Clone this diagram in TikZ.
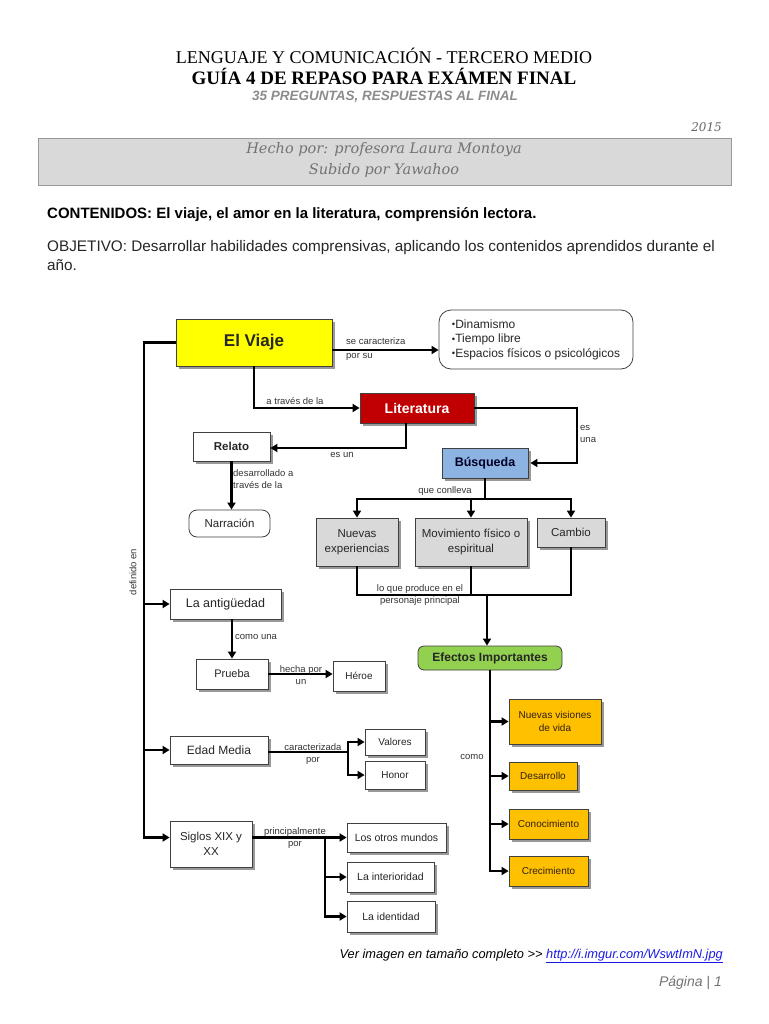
\documentclass[tikz,border=0pt]{standalone}
\usepackage{fontspec}
\setmainfont{Liberation Serif}
\setsansfont{Liberation Sans}
\newfontfamily\slabfont{DejaVu Serif}
\usetikzlibrary{shadows,arrows.meta}
\definecolor{vyellow}{HTML}{FFFF00}
\definecolor{vred}{HTML}{C00000}
\definecolor{vblue}{HTML}{8DB3E2}
\definecolor{vgray}{HTML}{D9D9D9}
\definecolor{vgreen}{HTML}{92D050}
\definecolor{vorange}{HTML}{FFC000}
\definecolor{vlink}{HTML}{1A1AE6}
\newcommand\smallbul{{\fontsize{9.5}{9.5}\selectfont\raisebox{0.05ex}{•}}}
\begin{document}
\begin{tikzpicture}[x=1pt,y=-1pt,
  box/.style={draw=black!75, line width=0.8pt, fill=white,
    drop shadow={shadow xshift=3pt, shadow yshift=-3pt, fill=black!40, opacity=1},
    font=\sffamily\fontsize{11}{13}\selectfont, align=center, inner sep=1pt, text=black!85},
  lab/.style={font=\sffamily\fontsize{9.5}{12}\selectfont, text=black!80, inner sep=0pt, align=center},
  arr/.style={line width=2.6pt, -{Triangle[length=7pt,width=8pt]}},
  ln/.style={line width=2.6pt}
]
\useasboundingbox[fill=white] (0,0) rectangle (768,1024);

% ---------- header ----------
\node[font=\fontsize{18}{20}\selectfont] (t1) at (384,55.5) {LENGUAJE Y COMUNICACIÓN - TERCERO MEDIO};
\node[font=\bfseries\fontsize{19}{21}\selectfont] (t2) at (384,76) {GUÍA 4 DE REPASO PARA EXÁMEN FINAL};
\node[font=\sffamily\bfseries\itshape\fontsize{13.5}{15}\selectfont, text=black!45] (t3) at (385,97) {35 PREGUNTAS, RESPUESTAS AL FINAL};
\node[anchor=east, font=\slabfont\itshape\fontsize{12}{14}\selectfont, text=black!60, inner sep=0pt] (yr) at (722,127) {2015};
\node[draw=black!40, fill=vgray, minimum width=693, minimum height=47, line width=1pt, inner sep=0pt] (hb) at (384.5,162.5) {};
\node[font=\slabfont\itshape\fontsize{14.5}{16}\selectfont, text=black!55] (h1) at (384,150) {Hecho por: profesora Laura Montoya};
\node[font=\slabfont\itshape\fontsize{14.5}{16}\selectfont, text=black!55] (h2) at (384,171) {Subido por Yawahoo};
\node[anchor=west, font=\sffamily\bfseries\fontsize{15}{17}\selectfont, inner sep=0pt] (cont) at (47,215) {CONTENIDOS: El viaje, el amor en la literatura, comprensión lectora.};
\node[anchor=west, font=\sffamily\fontsize{15.3}{17}\selectfont, inner sep=0pt, text=black!85] (obj1) at (47,248) {OBJETIVO: Desarrollar habilidades comprensivas, aplicando los contenidos aprendidos durante el};
\node[anchor=west, font=\sffamily\fontsize{15.3}{17}\selectfont, inner sep=0pt, text=black!85] (obj2) at (47,265) {año.};

% ---------- diagram nodes ----------
\node[box, fill=vyellow, minimum width=156, minimum height=47, font=\sffamily\bfseries\fontsize{17}{19}\selectfont] (viaje) at (254,342.5) {El Viaje};
\node[draw=black!75, line width=0.8pt, rounded corners=12pt, minimum width=194, minimum height=59, align=left, font=\sffamily\fontsize{12}{14.5}\selectfont, text=black!85] (bubble) at (536,339.5) {\smallbul Dinamismo\\\smallbul Tiempo libre\\\smallbul Espacios físicos o psicológicos};
\node[box, fill=vred, text=white, minimum width=114, minimum height=30, font=\sffamily\bfseries\fontsize{14}{16}\selectfont] (lit) at (417,408) {Literatura};
\node[box, fill=vblue, minimum width=86, minimum height=30, font=\sffamily\bfseries\fontsize{12.5}{14}\selectfont, text=black!85!blue] (busq) at (485,463) {Búsqueda};
\node[box, minimum width=77, minimum height=29, font=\sffamily\bfseries\fontsize{11.5}{13}\selectfont] (relato) at (231.5,446.5) {Relato};
\node[draw=black!75, line width=0.8pt, rounded corners=8pt, fill=white, minimum width=81, minimum height=27, font=\sffamily\fontsize{11.5}{13}\selectfont, text=black!85] (narr) at (229.5,523.5) {Narración};
\node[box, fill=vgray, minimum width=82, minimum height=48, font=\sffamily\fontsize{11.5}{15}\selectfont] (nuevas) at (357,542) {Nuevas\\experiencias};
\node[box, fill=vgray, minimum width=112, minimum height=48, font=\sffamily\fontsize{11.5}{15}\selectfont] (mov) at (471,542) {Movimiento físico o\\espiritual};
\node[box, fill=vgray, minimum width=68, minimum height=29, font=\sffamily\fontsize{11.5}{14}\selectfont] (cambio) at (571,532.5) {Cambio};
\node[draw=black!75, line width=0.8pt, rounded corners=6pt, fill=vgreen, minimum width=144, minimum height=24, font=\sffamily\bfseries\fontsize{12}{14}\selectfont, text=black!85] (efectos) at (490,658) {Efectos Importantes};
\node[box, fill=vorange, minimum width=92, minimum height=45, font=\sffamily\fontsize{10}{13}\selectfont, text=black!75!brown] (nvv) at (555,721.5) {Nuevas visiones\\de vida};
\node[box, fill=vorange, minimum width=68, minimum height=28, font=\sffamily\fontsize{10}{13}\selectfont, text=black!75!brown] (desa) at (543,776) {Desarrollo};
\node[box, fill=vorange, minimum width=79, minimum height=30, font=\sffamily\fontsize{10}{13}\selectfont, text=black!75!brown] (cono) at (548.5,824) {Conocimiento};
\node[box, fill=vorange, minimum width=79, minimum height=30, font=\sffamily\fontsize{10}{13}\selectfont, text=black!75!brown] (crec) at (548.5,871) {Crecimiento};
\node[box, minimum width=111, minimum height=30, font=\sffamily\fontsize{12.5}{14}\selectfont] (antig) at (225.5,604) {La antigüedad};
\node[box, minimum width=72, minimum height=30, font=\sffamily\fontsize{11}{13}\selectfont] (prueba) at (232,674) {Prueba};
\node[box, minimum width=52, minimum height=30, font=\sffamily\fontsize{10}{13}\selectfont] (heroe) at (359,676) {Héroe};
\node[box, minimum width=98, minimum height=28, font=\sffamily\fontsize{12}{14}\selectfont] (edad) at (219,750) {Edad Media};
\node[box, minimum width=60, minimum height=26, font=\sffamily\fontsize{10}{13}\selectfont] (valores) at (395,742) {Valores};
\node[box, minimum width=60, minimum height=28, font=\sffamily\fontsize{10}{13}\selectfont] (honor) at (395,775) {Honor};
\node[box, minimum width=82, minimum height=46, font=\sffamily\fontsize{11.5}{15}\selectfont] (siglos) at (211,844) {Siglos XIX y\\XX};
\node[box, minimum width=99, minimum height=29, font=\sffamily\fontsize{10.5}{13}\selectfont] (otros) at (396.5,837.5) {Los otros mundos};
\node[box, minimum width=87, minimum height=30, font=\sffamily\fontsize{10.5}{13}\selectfont] (inter) at (390.5,877) {La interioridad};
\node[box, minimum width=88, minimum height=31, font=\sffamily\fontsize{10.5}{13}\selectfont] (ident) at (391,916.5) {La identidad};

% ---------- helper coordinates ----------
\coordinate (a1) at (332,350);
\coordinate (c1) at (577,440);
\coordinate (c2) at (406,448);
\coordinate (j) at (485,499);
\coordinate (k) at (487,595);
\coordinate (L) at (144,600);
\coordinate (e) at (348,752);
\coordinate (s) at (325,837);

% ---------- connectors ----------
\draw[arr] (a1) -- (a1 -| bubble.west);
\draw[arr] (viaje.south) |- (lit.west);
\draw[arr, shorten >=2pt] (lit.east) -| (c1) |- (busq.east);
\draw[arr] (lit.south -| c2) -- (c2) -- (c2 -| relato.east);
\draw[arr] (relato.south) -- (relato.south |- narr.north);
\draw[ln] (busq.south) -- (j);
\draw[ln, line cap=rect] (j -| nuevas.north) -- (j -| cambio.north);
\draw[arr] (j -| nuevas.north) -- (nuevas.north);
\draw[arr] (j -| mov.north) -- (mov.north);
\draw[arr] (j -| cambio.north) -- (cambio.north);
\draw[ln] (nuevas.south) |- (k -| cambio.south) -- (cambio.south);
\draw[ln] (mov.south) -- (mov.south |- k);
\draw[arr] (k) -- (k |- efectos.north);
\draw[arr] (efectos.south) |- (crec.west);
\draw[arr] (efectos.south |- nvv.west) -- (nvv.west);
\draw[arr] (efectos.south |- desa.west) -- (desa.west);
\draw[arr] (efectos.south |- cono.west) -- (cono.west);
\draw[arr] (viaje.west) -| (L |- otros.west) -- (siglos.west |- otros.west);
\draw[arr] (L |- antig.west) -- (antig.west);
\draw[arr] (L |- edad.west) -- (edad.west);
\draw[arr] (prueba.north |- antig.south) -- (prueba.north);
\draw[arr] (prueba.east) -- (prueba.east -| heroe.west);
\draw[arr] (edad.east |- e) -| (e |- valores.west) -- (valores.west);
\draw[arr] (e) |- (honor.west);
\draw[arr] (siglos.east |- otros.west) -- (otros.west);
\draw[arr] (s) |- (inter.west);
\draw[arr] (s) |- (ident.west);

% ---------- connector labels ----------
\node[lab, anchor=north west, align=left, font=\sffamily\fontsize{9.5}{14}\selectfont] (l1) at (346,337) {se caracteriza\\por su};
\node[lab] (l2) at (295,401) {a través de la};
\node[lab, anchor=north west, align=left] (l3) at (580,425) {es\\una};
\node[lab] (l4) at (342,455) {es un};
\node[lab, anchor=north west, align=left] (l5) at (233,469) {desarrollado a\\través de la};
\node[lab] (l6) at (445,491) {que conlleva};
\node[lab] (l7) at (420,595) {lo que produce en el\\personaje principal};
\node[lab] (l8) at (472,757) {como};
\node[lab, anchor=west] (l9) at (235,637) {como una};
\node[lab] (l10) at (301,675) {hecha por\\un};
\node[lab] (l11) at (313,754) {caracterizada\\por};
\node[lab] (l12) at (295,838) {principalmente\\por};
\node[lab, rotate=90] (l13) at (133,572) {definido en};

% ---------- footer ----------
\node[anchor=east, font=\sffamily\itshape\fontsize{12.8}{14}\selectfont, inner sep=0pt] (ver) at (723,956) {Ver imagen en tamaño completo {>}{>} \textcolor{vlink}{\underline{http://i.imgur.com/WswtImN.jpg}}};
\node[anchor=east, font=\sffamily\itshape\fontsize{14}{16}\selectfont, text=black!55, inner sep=0pt] (pag) at (722,983) {Página | 1};
\end{tikzpicture}
\end{document}
